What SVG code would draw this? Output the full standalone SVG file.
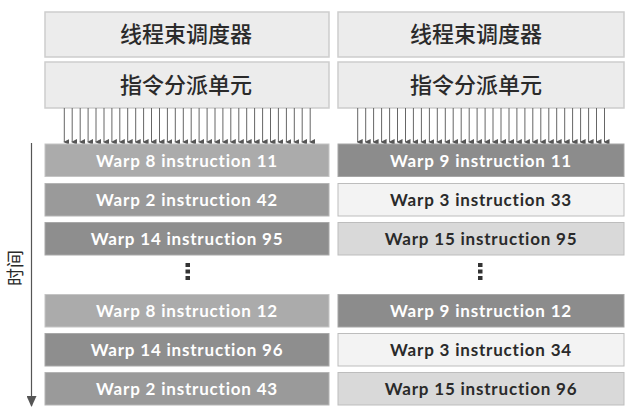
<svg xmlns="http://www.w3.org/2000/svg" width="633" height="413" viewBox="0 0 633 413">
<defs>
<marker id="ah" markerWidth="6" markerHeight="6" refX="3" refY="5" orient="auto-start-reverse" markerUnits="userSpaceOnUse" viewBox="0 0 6 6">
<path d="M0,0 L6,0 L3,6 Z" fill="#555"/>
</marker>
<marker id="ahT" markerWidth="10" markerHeight="11" refX="5" refY="10" markerUnits="userSpaceOnUse" viewBox="0 0 10 11">
<path d="M0,0 L10,0 L5,11 Z" fill="#555"/>
</marker>
</defs>
<style>
.hdr{fill:#ececec;stroke:#cdcdcd;stroke-width:1.5}
.zh{font-family:"Noto Sans CJK SC","Noto Sans CJK JP",sans-serif;font-size:22px;font-weight:500;fill:#2a2a2a;text-anchor:middle}
.w{font-family:Lato,"Open Sans",sans-serif;font-weight:bold;font-size:17px;letter-spacing:0.8px;text-anchor:middle}
.wt{fill:#ffffff}
.dt{fill:#2a2a2a}
.w8{fill:#ababab;stroke:#c4c4c4}
.w2{fill:#9a9a9a;stroke:#b4b4b4}
.w14{fill:#8e8e8e;stroke:#a8a8a8}
.w9{fill:#8c8c8c;stroke:#a6a6a6}
.w3{fill:#f3f3f3;stroke:#bdbdbd}
.w15{fill:#d9d9d9;stroke:#bdbdbd}
.arr line{stroke:#666;stroke-width:1}
.dot{fill:#333}
</style>
<g id="scheduler-left"><rect class="hdr" x="45" y="12" width="284" height="45"/><text class="zh" x="186" y="42">线程束调度器</text></g>
<g id="scheduler-right"><rect class="hdr" x="338" y="12" width="286" height="45"/><text class="zh" x="476" y="42">线程束调度器</text></g>
<g id="dispatch-left"><rect class="hdr" x="45" y="62" width="284" height="46"/><text class="zh" x="186" y="93">指令分派单元</text></g>
<g id="dispatch-right"><rect class="hdr" x="338" y="62" width="286" height="46"/><text class="zh" x="476" y="93">指令分派单元</text></g>

<g id="connectors" class="arr">
<g id="arrows-left">
<line x1="64.3" y1="108" x2="64.3" y2="142" marker-end="url(#ah)"/>
<line x1="72.2" y1="108" x2="72.2" y2="142" marker-end="url(#ah)"/>
<line x1="80.2" y1="108" x2="80.2" y2="142" marker-end="url(#ah)"/>
<line x1="88.1" y1="108" x2="88.1" y2="142" marker-end="url(#ah)"/>
<line x1="96.0" y1="108" x2="96.0" y2="142" marker-end="url(#ah)"/>
<line x1="104.0" y1="108" x2="104.0" y2="142" marker-end="url(#ah)"/>
<line x1="111.9" y1="108" x2="111.9" y2="142" marker-end="url(#ah)"/>
<line x1="119.8" y1="108" x2="119.8" y2="142" marker-end="url(#ah)"/>
<line x1="127.7" y1="108" x2="127.7" y2="142" marker-end="url(#ah)"/>
<line x1="135.7" y1="108" x2="135.7" y2="142" marker-end="url(#ah)"/>
<line x1="143.6" y1="108" x2="143.6" y2="142" marker-end="url(#ah)"/>
<line x1="151.5" y1="108" x2="151.5" y2="142" marker-end="url(#ah)"/>
<line x1="159.5" y1="108" x2="159.5" y2="142" marker-end="url(#ah)"/>
<line x1="167.4" y1="108" x2="167.4" y2="142" marker-end="url(#ah)"/>
<line x1="175.3" y1="108" x2="175.3" y2="142" marker-end="url(#ah)"/>
<line x1="183.3" y1="108" x2="183.3" y2="142" marker-end="url(#ah)"/>
<line x1="191.2" y1="108" x2="191.2" y2="142" marker-end="url(#ah)"/>
<line x1="199.1" y1="108" x2="199.1" y2="142" marker-end="url(#ah)"/>
<line x1="207.1" y1="108" x2="207.1" y2="142" marker-end="url(#ah)"/>
<line x1="215.0" y1="108" x2="215.0" y2="142" marker-end="url(#ah)"/>
<line x1="222.9" y1="108" x2="222.9" y2="142" marker-end="url(#ah)"/>
<line x1="230.8" y1="108" x2="230.8" y2="142" marker-end="url(#ah)"/>
<line x1="238.8" y1="108" x2="238.8" y2="142" marker-end="url(#ah)"/>
<line x1="246.7" y1="108" x2="246.7" y2="142" marker-end="url(#ah)"/>
<line x1="254.6" y1="108" x2="254.6" y2="142" marker-end="url(#ah)"/>
<line x1="262.6" y1="108" x2="262.6" y2="142" marker-end="url(#ah)"/>
<line x1="270.5" y1="108" x2="270.5" y2="142" marker-end="url(#ah)"/>
<line x1="278.4" y1="108" x2="278.4" y2="142" marker-end="url(#ah)"/>
<line x1="286.4" y1="108" x2="286.4" y2="142" marker-end="url(#ah)"/>
<line x1="294.3" y1="108" x2="294.3" y2="142" marker-end="url(#ah)"/>
<line x1="302.2" y1="108" x2="302.2" y2="142" marker-end="url(#ah)"/>
<line x1="310.2" y1="108" x2="310.2" y2="142" marker-end="url(#ah)"/>
</g>
<g id="arrows-right">
<line x1="357.7" y1="108" x2="357.7" y2="142" marker-end="url(#ah)"/>
<line x1="365.7" y1="108" x2="365.7" y2="142" marker-end="url(#ah)"/>
<line x1="373.6" y1="108" x2="373.6" y2="142" marker-end="url(#ah)"/>
<line x1="381.6" y1="108" x2="381.6" y2="142" marker-end="url(#ah)"/>
<line x1="389.6" y1="108" x2="389.6" y2="142" marker-end="url(#ah)"/>
<line x1="397.5" y1="108" x2="397.5" y2="142" marker-end="url(#ah)"/>
<line x1="405.5" y1="108" x2="405.5" y2="142" marker-end="url(#ah)"/>
<line x1="413.4" y1="108" x2="413.4" y2="142" marker-end="url(#ah)"/>
<line x1="421.4" y1="108" x2="421.4" y2="142" marker-end="url(#ah)"/>
<line x1="429.4" y1="108" x2="429.4" y2="142" marker-end="url(#ah)"/>
<line x1="437.3" y1="108" x2="437.3" y2="142" marker-end="url(#ah)"/>
<line x1="445.3" y1="108" x2="445.3" y2="142" marker-end="url(#ah)"/>
<line x1="453.2" y1="108" x2="453.2" y2="142" marker-end="url(#ah)"/>
<line x1="461.2" y1="108" x2="461.2" y2="142" marker-end="url(#ah)"/>
<line x1="469.2" y1="108" x2="469.2" y2="142" marker-end="url(#ah)"/>
<line x1="477.1" y1="108" x2="477.1" y2="142" marker-end="url(#ah)"/>
<line x1="485.1" y1="108" x2="485.1" y2="142" marker-end="url(#ah)"/>
<line x1="493.0" y1="108" x2="493.0" y2="142" marker-end="url(#ah)"/>
<line x1="501.0" y1="108" x2="501.0" y2="142" marker-end="url(#ah)"/>
<line x1="509.0" y1="108" x2="509.0" y2="142" marker-end="url(#ah)"/>
<line x1="516.9" y1="108" x2="516.9" y2="142" marker-end="url(#ah)"/>
<line x1="524.9" y1="108" x2="524.9" y2="142" marker-end="url(#ah)"/>
<line x1="532.8" y1="108" x2="532.8" y2="142" marker-end="url(#ah)"/>
<line x1="540.8" y1="108" x2="540.8" y2="142" marker-end="url(#ah)"/>
<line x1="548.8" y1="108" x2="548.8" y2="142" marker-end="url(#ah)"/>
<line x1="556.7" y1="108" x2="556.7" y2="142" marker-end="url(#ah)"/>
<line x1="564.7" y1="108" x2="564.7" y2="142" marker-end="url(#ah)"/>
<line x1="572.6" y1="108" x2="572.6" y2="142" marker-end="url(#ah)"/>
<line x1="580.6" y1="108" x2="580.6" y2="142" marker-end="url(#ah)"/>
<line x1="588.6" y1="108" x2="588.6" y2="142" marker-end="url(#ah)"/>
<line x1="596.5" y1="108" x2="596.5" y2="142" marker-end="url(#ah)"/>
<line x1="604.5" y1="108" x2="604.5" y2="142" marker-end="url(#ah)"/>
</g>
<line id="time-axis" x1="31.5" y1="143" x2="31.5" y2="406" style="stroke:#555;stroke-width:1.2" marker-end="url(#ahT)"/>
</g>

<g id="time-label"><text x="0" y="0" transform="translate(13.5,268) rotate(-90)" style="font-family:'Noto Sans CJK SC',sans-serif;font-size:18px;fill:#2a2a2a;text-anchor:middle;dominant-baseline:central">时间</text></g>

<g id="L1"><rect class="w8" x="45" y="144" width="284" height="32.5"/><text class="w wt" x="187" y="166.5">Warp 8 instruction 11</text></g>
<g id="L2"><rect class="w2" x="45" y="183.5" width="284" height="32.5"/><text class="w wt" x="187" y="206">Warp 2 instruction 42</text></g>
<g id="L3"><rect class="w14" x="45" y="222.5" width="284" height="32.5"/><text class="w wt" x="187" y="245">Warp 14 instruction 95</text></g>
<g id="L-dots"><rect class="dot" x="185.5" y="263" width="4.5" height="4"/><rect class="dot" x="185.5" y="269.5" width="4.5" height="4"/><rect class="dot" x="185.5" y="276" width="4.5" height="4"/></g>
<g id="L4"><rect class="w8" x="45" y="294.5" width="284" height="32.5"/><text class="w wt" x="187" y="317">Warp 8 instruction 12</text></g>
<g id="L5"><rect class="w14" x="45" y="333.5" width="284" height="32.5"/><text class="w wt" x="187" y="356">Warp 14 instruction 96</text></g>
<g id="L6"><rect class="w2" x="45" y="372.5" width="284" height="32.5"/><text class="w wt" x="187" y="395">Warp 2 instruction 43</text></g>

<g id="R1"><rect class="w9" x="338" y="144" width="286" height="32.5"/><text class="w wt" x="481" y="166.5">Warp 9 instruction 11</text></g>
<g id="R2"><rect class="w3" x="338" y="183.5" width="286" height="32.5"/><text class="w dt" x="481" y="206">Warp 3 instruction 33</text></g>
<g id="R3"><rect class="w15" x="338" y="222.5" width="286" height="32.5"/><text class="w dt" x="481" y="245">Warp 15 instruction 95</text></g>
<g id="R-dots"><rect class="dot" x="478" y="263" width="4.5" height="4"/><rect class="dot" x="478" y="269.5" width="4.5" height="4"/><rect class="dot" x="478" y="276" width="4.5" height="4"/></g>
<g id="R4"><rect class="w9" x="338" y="294.5" width="286" height="32.5"/><text class="w wt" x="481" y="317">Warp 9 instruction 12</text></g>
<g id="R5"><rect class="w3" x="338" y="333.5" width="286" height="32.5"/><text class="w dt" x="481" y="356">Warp 3 instruction 34</text></g>
<g id="R6"><rect class="w15" x="338" y="372.5" width="286" height="32.5"/><text class="w dt" x="481" y="395">Warp 15 instruction 96</text></g>
</svg>
